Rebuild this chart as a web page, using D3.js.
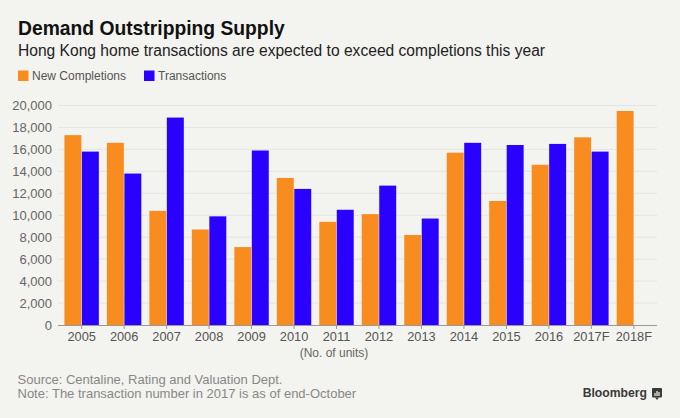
<!DOCTYPE html>
<html>
<head>
<meta charset="utf-8">
<script src="https://cdn.jsdelivr.net/npm/d3@7"></script>
<style>
  body { margin: 0; background: #f3f3ef; }
  svg { display: block; font-family: "Liberation Sans", Arial, sans-serif; }
</style>
</head>
<body>
<div id="chart"></div>
<script>
// ------- data ------->
const years = ["2005", "2006", "2007", "2008", "2009", "2010", "2011",
  "2012", "2013", "2014", "2015", "2016", "2017F", "2018F"];
const completions = [17300, 16600, 10400, 8700, 7100, 13400, 9400,
  10100, 8200, 15700, 11300, 14600, 17100, 19500];
const transactions = [15800, 13800, 18900, 9900, 15900, 12400, 10500,
  12700, 9700, 16600, 16400, 16500, 15800, null];
const yTicks = [0, 2000, 4000, 6000, 8000, 10000, 12000, 14000, 16000, 18000, 20000];

const seriesNames = ["New Completions", "Transactions"];
const colors = ["#f98c1f", "#2a00ff"];

// ------- layout ------->
const svgWidth = 680, svgHeight = 418;
const margin = { top: 105.5, right: 23, bottom: 93, left: 58 };
const width = svgWidth - margin.left - margin.right;
const height = svgHeight - margin.top - margin.bottom;

const svg = d3.select("#chart").append("svg")
  .attr("width", svgWidth)
  .attr("height", svgHeight);

svg.append("rect")
  .attr("width", svgWidth).attr("height", svgHeight)
  .attr("fill", "#f3f3ef");

// ------- titles ------->
svg.append("text")
  .attr("x", 18).attr("y", 35)
  .style("font-size", "19.3px").style("font-weight", "bold")
  .attr("fill", "#111")
  .text("Demand Outstripping Supply");

svg.append("text")
  .attr("x", 18).attr("y", 56)
  .style("font-size", "15.6px")
  .attr("fill", "#222")
  .text("Hong Kong home transactions are expected to exceed completions this year");

// ------- legend ------->
const legendX = [18, 144];
const legend = svg.selectAll(".legend")
  .data(seriesNames)
  .enter().append("g")
  .attr("transform", (d, i) => `translate(${legendX[i]},70.5)`);
legend.append("rect")
  .attr("width", 10.5).attr("height", 10.5)
  .attr("fill", (d, i) => colors[i]);
legend.append("text")
  .attr("x", 14).attr("y", 9.5)
  .style("font-size", "12px")
  .attr("fill", "#555")
  .text(d => d);

const g = svg.append("g")
  .attr("transform", `translate(${margin.left},${margin.top})`);

// ------- scales ------->
const x0 = d3.scaleBand()
  .domain(years)
  .range([2.5, width - 2])
  .paddingInner(0.165)
  .paddingOuter(0.08);

const x1 = d3.scaleBand()
  .domain([0, 1])
  .range([0, x0.bandwidth()])
  .padding(0.03);

const y = d3.scaleLinear()
  .domain([0, 20000])
  .range([height, 0]);

// ------- grid ------->
g.append("g")
  .selectAll("line")
  .data(yTicks.slice(1))
  .enter().append("line")
  .attr("x1", 0).attr("x2", width)
  .attr("y1", d => y(d)).attr("y2", d => y(d))
  .attr("stroke", "#e6e6e1")
  .attr("stroke-width", 1);

// ------- y axis ------->
const leftAxis = d3.axisLeft(y)
  .tickValues(yTicks)
  .tickSize(0)
  .tickPadding(6)
  .tickFormat(d3.format(","));

g.append("g")
  .call(leftAxis)
  .call(a => a.select(".domain").remove())
  .selectAll("text")
  .style("font-size", "13px")
  .style("font-family", "Liberation Sans, Arial, sans-serif")
  .attr("fill", "#666");

// ------- bars ------->
const groups = g.selectAll(".year")
  .data(years)
  .enter().append("g")
  .attr("transform", d => `translate(${x0(d)},0)`);

groups.selectAll("rect")
  .data((d, i) => [completions[i], transactions[i]])
  .enter().filter(d => d != null).append("rect")
  .attr("x", (d, i) => x1(i))
  .attr("width", x1.bandwidth())
  .attr("y", d => y(d))
  .attr("height", d => height - y(d))
  .attr("fill", (d, i) => colors[i]);

// ------- x axis ------->
const bottomAxis = d3.axisBottom(x0)
  .tickSize(4)
  .tickPadding(3)
  .tickSizeOuter(0);

const xAx = g.append("g")
  .attr("transform", `translate(0,${height})`)
  .call(bottomAxis);
xAx.select(".domain")
  .attr("d", `M0,0.5H${width}`)
  .attr("stroke", "#999");
xAx.selectAll(".tick line").attr("stroke", "#999");
xAx.selectAll("text")
  .style("font-size", "12.8px")
  .style("font-family", "Liberation Sans, Arial, sans-serif")
  .attr("fill", "#555");

svg.append("text")
  .attr("x", 334).attr("y", 357)
  .attr("text-anchor", "middle")
  .style("font-size", "12px")
  .attr("fill", "#666")
  .text("(No. of units)");

// ------- footer ------->
svg.append("text")
  .attr("x", 17.5).attr("y", 384)
  .style("font-size", "13px")
  .attr("fill", "#888")
  .text("Source: Centaline, Rating and Valuation Dept.");

svg.append("text")
  .attr("x", 17.5).attr("y", 397.5)
  .style("font-size", "13px")
  .attr("fill", "#888")
  .text("Note: The transaction number in 2017 is as of end-October");

svg.append("text")
  .attr("x", 647).attr("y", 397)
  .attr("text-anchor", "end")
  .style("font-size", "12.2px").style("font-weight", "bold")
  .attr("fill", "#3a3a3a")
  .text("Bloomberg");

const logo = svg.append("g").attr("transform", "translate(652,388)");
logo.append("rect")
  .attr("width", 10).attr("height", 9.5).attr("rx", 1)
  .attr("fill", "#3a3a3a");
logo.append("path")
  .attr("d", "M3,9.5 L5,12 L7,9.5 Z")
  .attr("fill", "#3a3a3a");
logo.selectAll(".lb")
  .data([3, 5, 7])
  .enter().append("rect")
  .attr("x", d => d - 0.6)
  .attr("y", (d, i) => [5, 3, 4][i])
  .attr("width", 1.2)
  .attr("height", (d, i) => [3, 5, 4][i])
  .attr("fill", "#f3f3ef");
</script>
</body>
</html>
